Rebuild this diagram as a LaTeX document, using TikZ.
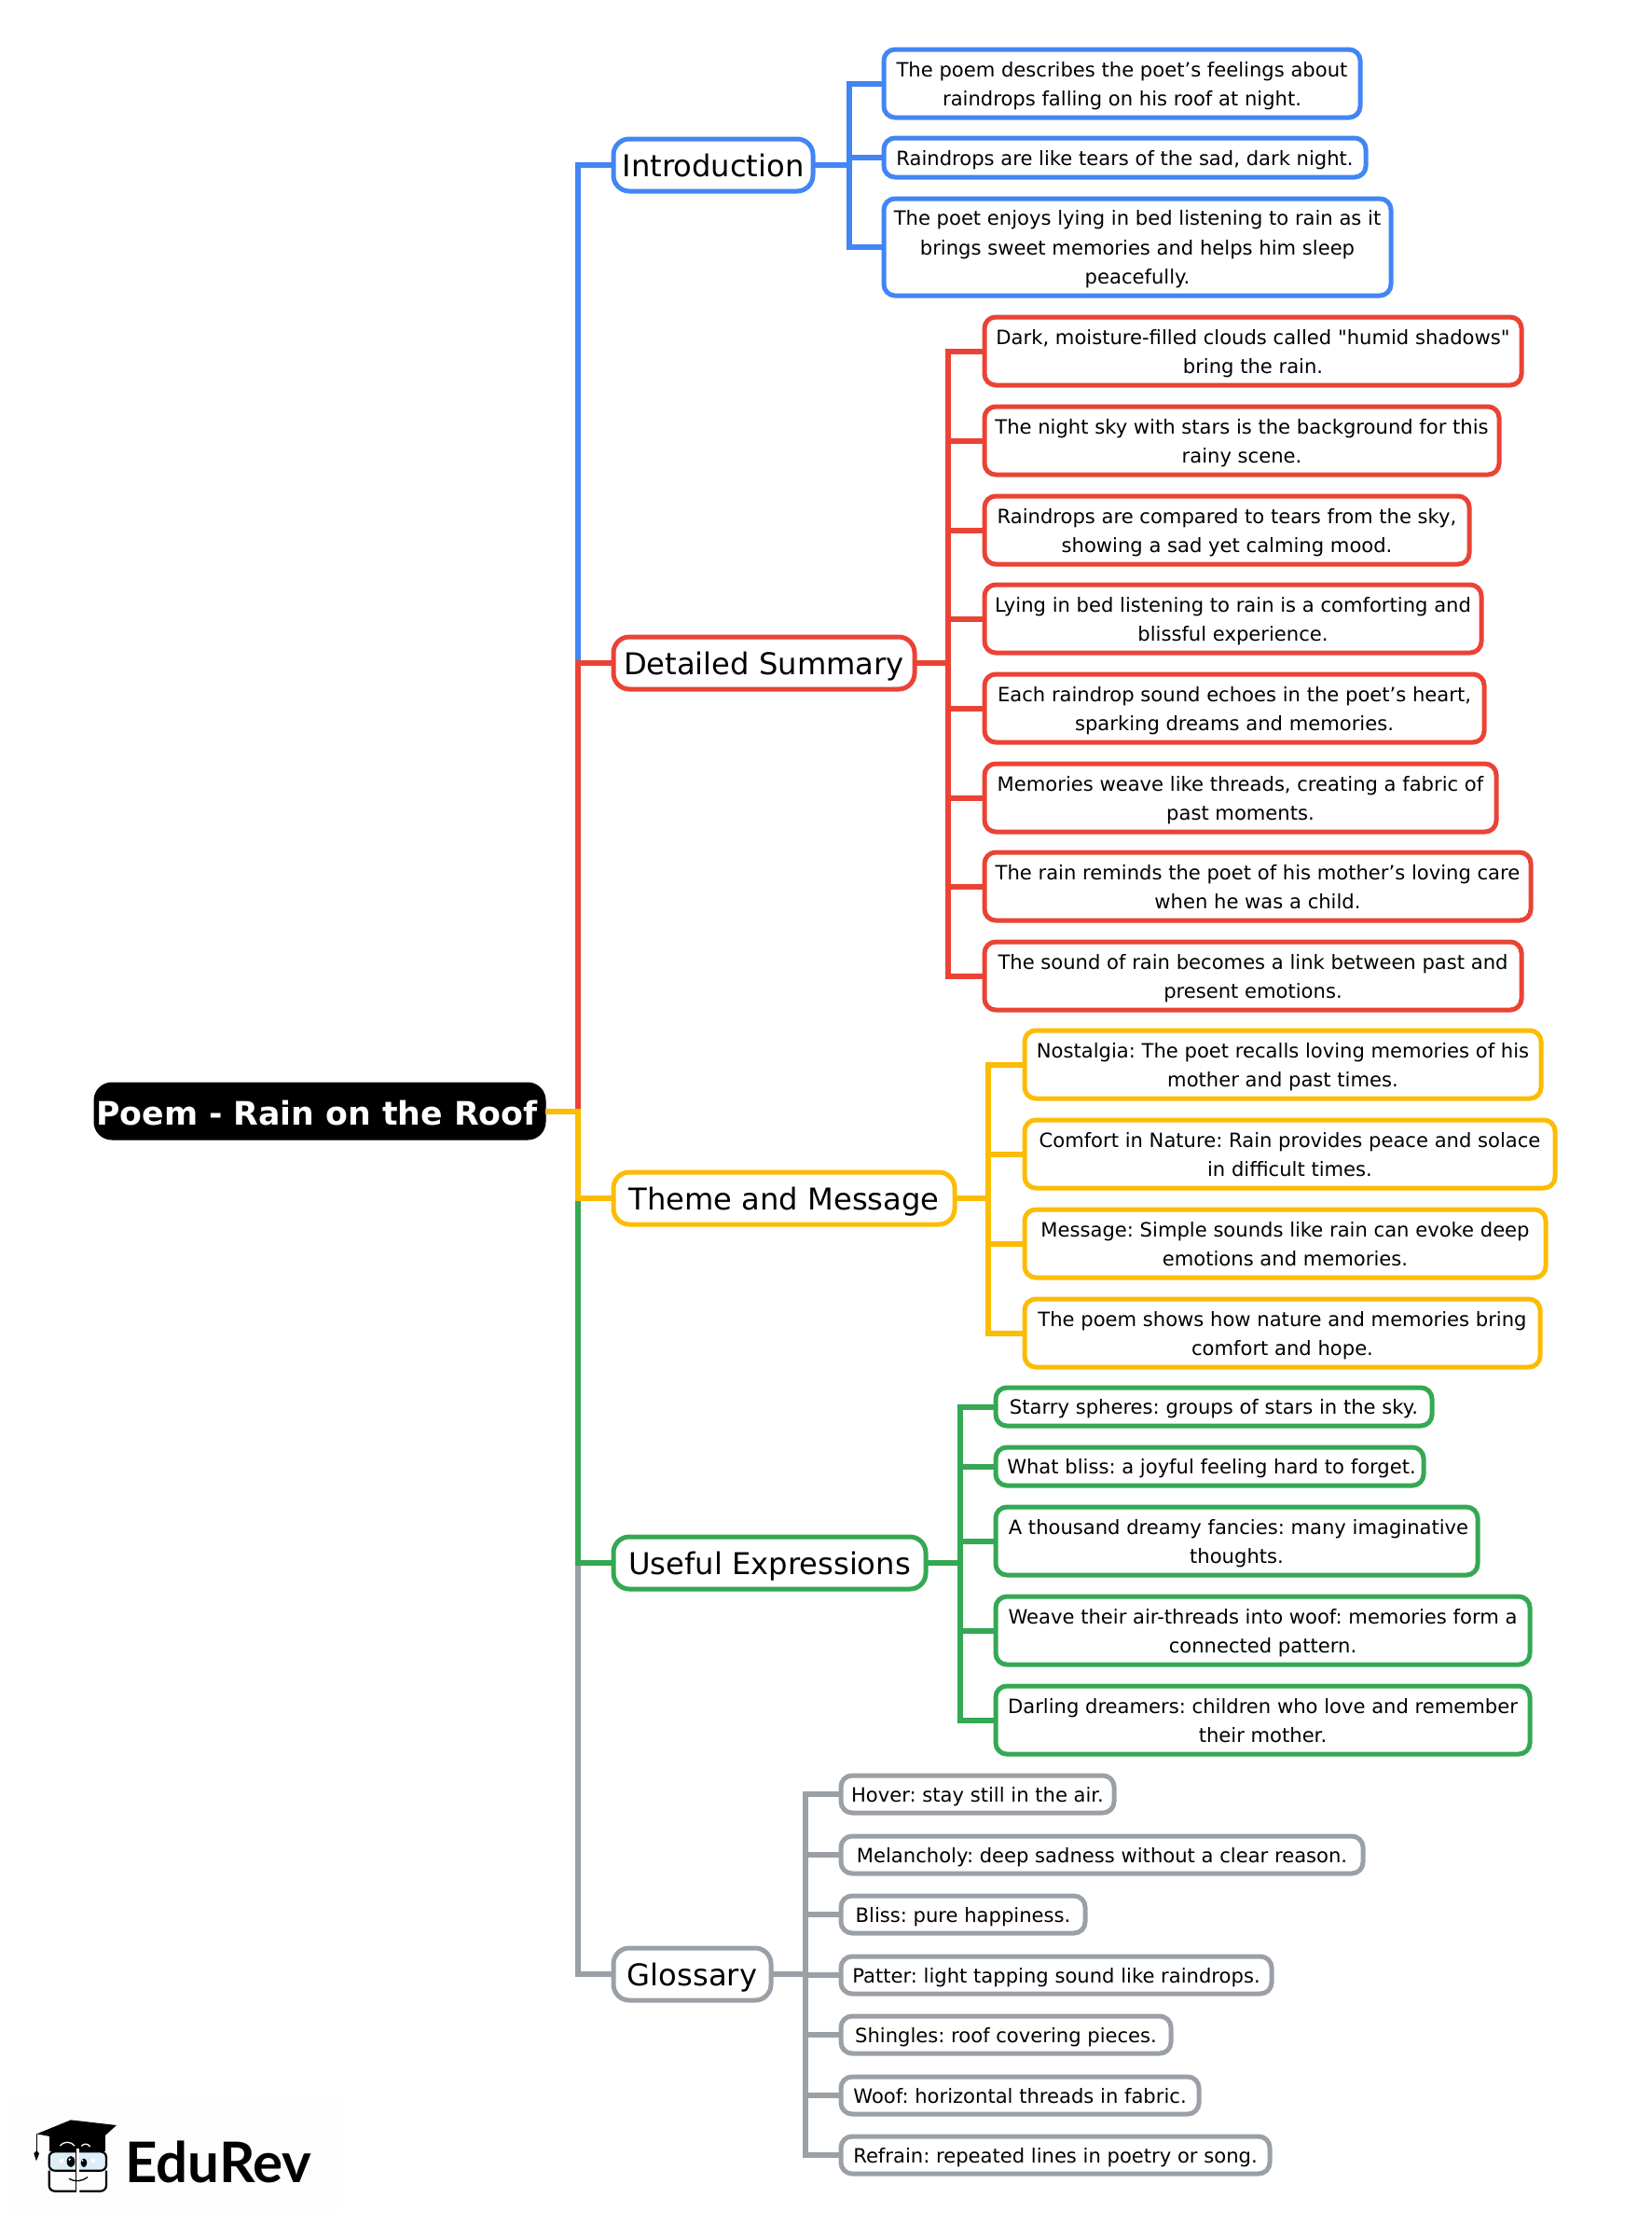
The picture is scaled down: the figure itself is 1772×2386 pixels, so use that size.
\documentclass[tikz,border=0pt]{standalone}
\usepackage{fontspec}
\setmainfont{DejaVu Sans}[Ligatures=TeXOff]
\newfontfamily\logofont{Lato}
\definecolor{cblue}{HTML}{4285F4}
\definecolor{cred}{HTML}{EA4335}
\definecolor{cyellow}{HTML}{FBBC04}
\definecolor{cgreen}{HTML}{34A853}
\definecolor{cgrey}{HTML}{9AA0A6}
\definecolor{glass}{HTML}{DCEEF8}
\definecolor{logobg}{HTML}{FDFDFD}
\tikzset{
  base/.style={draw,fill=white,inner sep=0pt,outer sep=0pt,align=center,text=black},
  leaf/.style={base,line width=5pt,rounded corners=12pt,font=\fontsize{21.1}{31.4}\selectfont},
  branch/.style={base,line width=5pt,rounded corners=17pt,font=\fontsize{32.2}{38}\selectfont},
  rootbox/.style={base,draw=black,fill=black,text=white,line width=1pt,rounded corners=19pt,font=\fontsize{34.7}{38}\selectfont\bfseries},
  link/.style={line width=6pt,line join=miter},
}
% name, left, top, right, bottom, style, text (stroke-outer pixel box)
\newcommand{\bxlw}{2}
\newcommand{\bxdrop}{2pt}
\newcommand{\bx}[7]{%
  \pgfmathsetmacro{\bxw}{#4-#2-\bxlw+1}%
  \pgfmathsetmacro{\bxh}{#5-#3-\bxlw}%
  \node[#6,minimum width=\bxw pt,minimum height=\bxh pt,anchor=center] (#1) at ({(#2+#4+1)/2},{(#3+#5)/2}) {\frenchspacing\raisebox{-\bxdrop}[\height][\depth]{\begin{tabular}{@{}c@{}}#7\end{tabular}}};}
% colour, from, bus coordinate, to
\newcommand{\lk}[4]{\draw[link,#1] (#2.east) -- (#3 |- #2.east) -- (#3 |- #4.west) -- (#4.west);}
\begin{document}
\begin{tikzpicture}[x=1pt,y=-1pt]
\useasboundingbox (0,0) rectangle (1772,2386);
\fill[white] (0,0) rectangle (1772,2386);
\coordinate (trunk) at (620,0);
\coordinate (busI) at (911,0);
\coordinate (busS) at (1017,0);
\coordinate (busT) at (1060,0);
\coordinate (busU) at (1030,0);
\coordinate (busG) at (864,0);
% nodes
\renewcommand{\bxdrop}{7pt}
\bx{root}{100}{1160}{585}{1223}{rootbox}{Poem - Rain on the Roof\hspace*{6pt}}
\renewcommand{\bxdrop}{4.5pt}
\bx{intro}{657}{148}{872}{206}{branch,draw=cblue}{Introduction}
\bx{summ}{657}{682}{981}{740}{branch,draw=cred}{Detailed Summary}
\bx{theme}{657}{1256}{1024}{1314}{branch,draw=cyellow}{Theme and Message}
\bx{useful}{657}{1647}{993}{1705}{branch,draw=cgreen}{Useful Expressions}
\bx{gloss}{657}{2088}{827}{2146}{branch,draw=cgrey}{Glossary}
\renewcommand{\bxdrop}{2pt}
\bx{i1}{947}{52}{1459}{127}{leaf,draw=cblue}{The poem describes the poet’s feelings about\\raindrops falling on his roof at night.}
\bx{i2}{947}{147}{1465}{191}{leaf,draw=cblue}{Raindrops are like tears of the sad, dark night.}
\bx{i3}{947}{212}{1492}{318}{leaf,draw=cblue}{The poet enjoys lying in bed listening to rain as it\\brings sweet memories and helps him sleep\\peacefully.}
\bx{s1}{1055}{339}{1632}{414}{leaf,draw=cred}{Dark, moisture-filled clouds called "humid shadows"\\bring the rain.}
\bx{s2}{1055}{435}{1608}{510}{leaf,draw=cred}{The night sky with stars is the background for this\\rainy scene.}
\bx{s3}{1055}{531}{1576}{606}{leaf,draw=cred}{Raindrops are compared to tears from the sky,\\showing a sad yet calming mood.}
\bx{s4}{1055}{626}{1589}{701}{leaf,draw=cred}{Lying in bed listening to rain is a comforting and\\blissful experience.}
\bx{s5}{1055}{722}{1592}{797}{leaf,draw=cred}{Each raindrop sound echoes in the poet’s heart,\\sparking dreams and memories.}
\bx{s6}{1055}{818}{1605}{893}{leaf,draw=cred}{Memories weave like threads, creating a fabric of\\past moments.}
\bx{s7}{1055}{913}{1642}{988}{leaf,draw=cred}{The rain reminds the poet of his mother’s loving care\\when he was a child.}
\bx{s8}{1055}{1009}{1632}{1084}{leaf,draw=cred}{The sound of rain becomes a link between past and\\present emotions.}
\bx{t1}{1098}{1104}{1653}{1179}{leaf,draw=cyellow}{Nostalgia: The poet recalls loving memories of his\\mother and past times.}
\bx{t2}{1098}{1200}{1668}{1275}{leaf,draw=cyellow}{Comfort in Nature: Rain provides peace and solace\\in difficult times.}
\bx{t3}{1098}{1296}{1658}{1371}{leaf,draw=cyellow}{Message: Simple sounds like rain can evoke deep\\emotions and memories.}
\bx{t4}{1098}{1392}{1652}{1467}{leaf,draw=cyellow}{The poem shows how nature and memories bring\\comfort and hope.}
\bx{u1}{1067}{1487}{1536}{1530}{leaf,draw=cgreen}{Starry spheres: groups of stars in the sky.}
\bx{u2}{1067}{1551}{1527}{1594}{leaf,draw=cgreen}{\hspace*{4pt}What bliss: a joyful feeling hard to forget.}
\bx{u3}{1067}{1615}{1585}{1690}{leaf,draw=cgreen}{\hspace*{4pt}A thousand dreamy fancies: many imaginative\\thoughts.}
\bx{u4}{1067}{1711}{1641}{1786}{leaf,draw=cgreen}{Weave their air-threads into woof: memories form a\\connected pattern.}
\bx{u5}{1067}{1807}{1641}{1882}{leaf,draw=cgreen}{Darling dreamers: children who love and remember\\their mother.}
\bx{g1}{901}{1903}{1195}{1945}{leaf,draw=cgrey}{Hover: stay still in the air.}
\bx{g2}{901}{1968}{1462}{2010}{leaf,draw=cgrey}{Melancholy: deep sadness without a clear reason.}
\bx{g3}{901}{2032}{1164}{2074}{leaf,draw=cgrey}{Bliss: pure happiness.}
\bx{g4}{901}{2097}{1364}{2139}{leaf,draw=cgrey}{Patter: light tapping sound like raindrops.}
\bx{g5}{901}{2161}{1256}{2203}{leaf,draw=cgrey}{Shingles: roof covering pieces.}
\bx{g6}{901}{2226}{1286}{2268}{leaf,draw=cgrey}{Woof: horizontal threads in fabric.}
\bx{g7}{901}{2290}{1362}{2332}{leaf,draw=cgrey}{Refrain: repeated lines in poetry or song.}
% trunk connectors
\lk{cblue}{root}{trunk}{intro}
\lk{cred}{root}{trunk}{summ}
\lk{cgrey}{root}{trunk}{gloss}
\lk{cgreen}{root}{trunk}{useful}
\lk{cyellow}{root}{trunk}{theme}
% leaf connectors
\foreach \n in {i1,i2,i3}{\lk{cblue}{intro}{busI}{\n}}
\foreach \n in {s1,s2,s3,s4,s5,s6,s7,s8}{\lk{cred}{summ}{busS}{\n}}
\foreach \n in {t1,t2,t3,t4}{\lk{cyellow}{theme}{busT}{\n}}
\foreach \n in {u1,u2,u3,u4,u5}{\lk{cgreen}{useful}{busU}{\n}}
\foreach \n in {g1,g2,g3,g4,g5,g6,g7}{\lk{cgrey}{gloss}{busG}{\n}}
% logo
\fill[logobg] (10,2247) rectangle (362,2370);
\begin{scope}[shift={(0,2200)},x=0.3333pt,y=-0.3333pt]
  \fill[black] (160,270) -- (338,270) -- (338,320) -- (160,320) -- cycle;
  \fill[black] (118,265) -- (228,220) -- (375,237) -- (305,300) -- cycle;
  \draw[black,line width=1.2pt] (118,265) -- (118,322);
  \fill[black] (118,318) -- (126,328) -- (117,352) -- (109,328) -- cycle;
  \draw[white,line width=1.3pt] (193,303) .. controls (205,288) and (228,288) .. (240,303);
  \draw[white,line width=1.3pt] (262,304) .. controls (270,295) and (283,295) .. (290,306);
  \draw[black,line width=2.2pt,fill=glass,rounded corners=6pt] (158,322) rectangle (342,383);
  \draw[black,line width=2.2pt,rounded corners=6pt] (244,449) -- (158,449) -- (158,383);
  \draw[black,line width=2.2pt,rounded corners=6pt] (256,449) -- (342,449) -- (342,383);
  \fill[white] (244,312) rectangle (256,452);
  \draw[black,line width=1pt] (245,312) -- (245,452);
  \fill[black] (228,354) ellipse (13 and 18);
  \fill[black] (270,358) ellipse (10 and 14);
  \fill[white] (224,347) circle (4);
  \fill[white] (266,351) circle (3);
  \fill[white] (192,346) rectangle (204,358);
  \fill[white] (294,346) rectangle (306,358);
  \draw[black,line width=1.3pt] (222,409) .. controls (240,420) and (265,418) .. (282,404);
\end{scope}
\node[inner sep=0pt,anchor=base west,font=\logofont\bfseries\fontsize{60}{62}\selectfont] (logotext) at (134,2340) {EduRev};
\end{tikzpicture}
\end{document}
